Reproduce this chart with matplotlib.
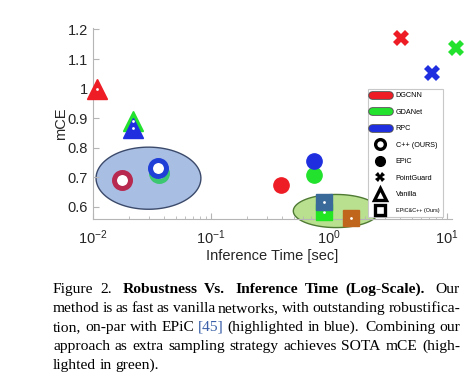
import numpy as np
import matplotlib.pyplot as plt
import matplotlib.patheffects as pe
from matplotlib.lines import Line2D

# backbones: DGCNN, GDANet, RPC
models = ['DGCNN', 'GDANet', 'RPC']

# inference time [sec] / mCE per method, in order DGCNN, GDANet, RPC
vanilla_time = [0.0108, 0.022, 0.022]
vanilla_mce = [1.00, 0.89, 0.867]
ours_time = [0.0177, 0.036, 0.0352]
ours_mce = [0.69, 0.716, 0.73]
epic_time = [0.389, 0.745, 0.745]
epic_mce = [0.673, 0.707, 0.754]
pg_time = [4.05, 11.9, 7.45]
pg_mce = [1.17, 1.136, 1.054]
combo_time = [1.54, 0.905, 0.905]
combo_mce = [0.562, 0.583, 0.617]

legend_labels = ['DGCNN', 'GDANet', 'RPC', 'C++ (OURS)', 'EPiC',
                 'PointGuard', 'Vanilla', 'EPiC&C++ (Ours)']
yticks = [0.6, 0.7, 0.8, 0.9, 1.0, 1.1, 1.2]
ytick_labels = ['0.6', '0.7', '0.8', '0.9', '1', '1.1', '1.2']

caption = [
    "Figure 2.  Robustness Vs.  Inference Time (Log-Scale).  Our",
    "method is as fast as vanilla networks, with outstanding robustifica-",
    "tion, on-par with EPiC [45] (highlighted in blue).  Combining our",
    "approach as extra sampling strategy achieves SOTA mCE (high-",
    "lighted in green).",
]

base_cols = ['#ee1c24', '#22e22e', '#1f2fe0']
ring_cols = ['#b8294f', '#3cc870', '#1f3fd6']
square_cols = ['#c0651c', '#22e622', '#3a6a9a']

plt.rcParams['font.family'] = 'Liberation Sans'

fig = plt.figure(figsize=(4.74, 3.84), dpi=100)
ax = fig.add_axes([93 / 474, 165 / 384, 359 / 474, 191 / 384])
ax.set_xscale('log')
ax.set_xlim(0.01, 11.0)
ax.set_ylim(0.559, 1.205)


def highlight(logc, a, yc, b, fc, ec):
    t = np.linspace(0, 2 * np.pi, 300)
    ax.fill(10 ** (logc + a * np.cos(t)), yc + b * np.sin(t), fc=fc, ec=ec,
            lw=1.0, zorder=1, clip_on=False)


highlight(-1.53, 0.444, 0.697, 0.105, '#a9bee3', '#3b4a6b')
highlight(0.06, 0.363, 0.586, 0.056, '#b9e08f', '#4f7a34')

kw = dict(ls='', clip_on=False)
# vanilla triangles
for x, y, c in zip(vanilla_time, vanilla_mce, base_cols):
    ax.plot(x, y, marker='^', ms=15, color=c, zorder=3, **kw)
    ax.plot(x, y, marker='o', ms=2, color='white', mew=0, zorder=3.1, **kw)
# ours rings (green behind blue)
for i in [0, 1, 2]:
    ax.plot(ours_time[i], ours_mce[i], marker='o', ms=11.5, mfc='white',
            mec=ring_cols[i], mew=3.6, zorder=3 + i * 0.1, **kw)
# EPiC filled circles
for x, y, c in zip(epic_time, epic_mce, base_cols):
    ax.plot(x, y, marker='o', ms=11, color=c, zorder=3, **kw)
# PointGuard
for x, y, c in zip(pg_time, pg_mce, base_cols):
    ax.plot(x, y, marker='X', ms=11, color=c, mew=0, zorder=3, **kw)
# combined squares
for i in [0, 1, 2]:
    ax.plot(combo_time[i], combo_mce[i], marker='s', ms=11.5,
            color=square_cols[i], zorder=3 + i * 0.1, **kw)
    ax.plot(combo_time[i], combo_mce[i], marker='o', ms=2, color='white',
            mew=0, zorder=3.05 + i * 0.1, **kw)

ax.set_yticks(yticks)
ax.set_yticklabels(ytick_labels)
for s in ['top', 'right']:
    ax.spines[s].set_visible(False)
for s in ['left', 'bottom']:
    ax.spines[s].set_color('#b5b5b5')
ax.tick_params(which='both', direction='in', colors='#b5b5b5',
               labelcolor='#262626', labelsize=10.5)
ax.tick_params(which='major', length=4)
ax.tick_params(which='minor', length=2.5)
ax.tick_params(axis='x', pad=7)
ax.set_xlabel('Inference Time [sec]', fontsize=10.5, color='#262626', labelpad=1)
ax.set_ylabel('mCE', fontsize=10.5, color='#262626', labelpad=0)

# legend
stroke = [pe.Stroke(linewidth=6.3, foreground='#555555'), pe.Normal()]
handles = [Line2D([], [], color=c, lw=5.0, solid_capstyle='round',
                  path_effects=stroke) for c in base_cols]
handles += [
    Line2D([], [], ls='', marker='o', ms=7, mfc='white', mec='black', mew=2.4),
    Line2D([], [], ls='', marker='o', ms=7, color='black'),
    Line2D([], [], ls='', marker='X', ms=7, color='black', mew=0),
    Line2D([], [], ls='', marker='^', ms=9, mfc='white', mec='black', mew=2.4),
    Line2D([], [], ls='', marker='s', ms=7, mfc='white', mec='black', mew=2.4),
]
leg = ax.legend(handles, legend_labels, loc='lower right',
                bbox_to_anchor=(0.975, 0.01), fontsize=5.2, frameon=True,
                fancybox=False, edgecolor='#c8c8c8', framealpha=1,
                handlelength=2.3, handletextpad=1.0, labelspacing=1.3,
                borderpad=0.5, borderaxespad=0)
leg.get_frame().set_linewidth(0.8)
leg.get_texts()[-1].set_fontsize(4.0)

# caption, justified between x=53 and x=460 px
renderer = fig.canvas.get_renderer()
bold_words = {'Robustness', 'Vs.', 'Inference', 'Time', '(Log-Scale).'}
left, right = 53, 460


def word_widths(words, size, bold_set):
    ws = []
    for w in words:
        t = fig.text(0, 0, w, fontsize=size, family='Liberation Serif',
                     weight='bold' if w in bold_set else 'normal')
        ws.append(t.get_window_extent(renderer).width)
        t.remove()
    return ws


# biggest size where the tightest line still fits with ~3px gaps
cap_size = 11.5
tight = caption[1].split()
need = sum(word_widths(tight, cap_size, set())) + 3.2 * (len(tight) - 1)
if need > right - left:
    cap_size *= (right - left - 3.2 * (len(tight) - 1)) / (need - 3.2 * (len(tight) - 1))

for li, line in enumerate(caption):
    yb = (384 - 293 - li * 18.9) / 384
    words = line.split()
    texts = []
    for w in words:
        bold = li == 0 and w in bold_words
        col = '#3a5fa8' if w == '[45]' else 'black'
        t = fig.text(0, yb, w, fontsize=cap_size, family='Liberation Serif',
                     weight='bold' if bold else 'normal', color=col,
                     va='baseline', ha='left')
        texts.append(t)
    widths = [t.get_window_extent(renderer).width for t in texts]
    # sentence gaps (double spaces) weigh more
    gw = []
    for p in line.split(' '):
        if p == '':
            gw[-1] = 1.6
        else:
            gw.append(1.0)
    gw = gw[:-1]
    if li == len(caption) - 1:
        gaps = [3.4 * g for g in gw]
    else:
        extra = (right - left) - sum(widths)
        gaps = [extra * g / sum(gw) for g in gw]
    x = left
    for i, t in enumerate(texts):
        t.set_x(x / 474)
        x += widths[i] + (gaps[i] if i < len(gaps) else 0)

fig.savefig('out.png', dpi=100)
